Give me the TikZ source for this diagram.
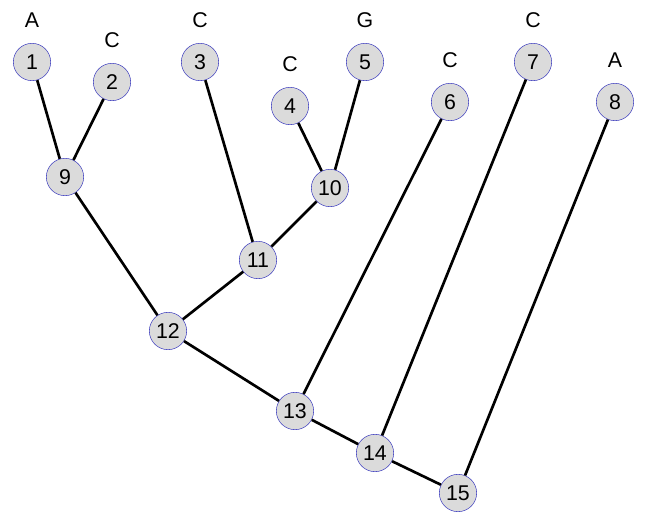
\documentclass[tikz,border=0pt]{standalone}
\usepackage{fontspec}
\setmainfont{Liberation Sans}
\usepackage{tikz}

\tikzset{
  leaf/.style={circle, draw=blue!50!gray, fill=gray!28, thin, minimum size=28pt, inner sep=0pt, font=\fontsize{16}{19}\selectfont},
  base/.style={font=\fontsize{16}{19}\selectfont},
  edge/.style={line width=2pt}
}

\begin{document}
\begin{tikzpicture}[x=0.75pt, y=-0.75pt]
        \useasboundingbox (0,0) rectangle (651,527);

        % tree nodes
        \node[leaf] (n1) at (32,62) {1};
        \node[leaf] (n2) at (112,82) {2};
        \node[leaf] (n3) at (200,62) {3};
        \node[leaf] (n4) at (290,106) {4};
        \node[leaf] (n5) at (365,62) {5};
        \node[leaf] (n6) at (450,102) {6};
        \node[leaf] (n7) at (533,62) {7};
        \node[leaf] (n8) at (615,102) {8};
        \node[leaf] (n9) at (65,177) {9};
        \node[leaf] (n10) at (330,188) {10};
        \node[leaf] (n11) at (258,260) {11};
        \node[leaf] (n12) at (168,331) {12};
        \node[leaf] (n13) at (295,411) {13};
        \node[leaf] (n14) at (375,453) {14};
        \node[leaf] (n15) at (458,493) {15};

        % bases
        \node[base] (b1) at (32,20) {A};
        \node[base] (b2) at (112,40) {C};
        \node[base] (b3) at (200,20) {C};
        \node[base] (b4) at (290,64) {C};
        \node[base] (b5) at (365,20) {G};
        \node[base] (b6) at (450,60) {C};
        \node[base] (b7) at (533,20) {C};
        \node[base] (b8) at (615,60) {A};

        \draw[edge] (n1) -- (n9);
        \draw[edge] (n2) -- (n9);
        \draw[edge] (n4) -- (n10);
        \draw[edge] (n5) -- (n10);
        \draw[edge] (n3) -- (n11);
        \draw[edge] (n10) -- (n11);
        \draw[edge] (n9) -- (n12);
        \draw[edge] (n11) -- (n12);
        \draw[edge] (n12) -- (n13);
        \draw[edge] (n6) -- (n13);
        \draw[edge] (n13) -- (n14);
        \draw[edge] (n7) -- (n14);
        \draw[edge] (n14) -- (n15);
        \draw[edge] (n8) -- (n15);
\end{tikzpicture}
\end{document}
